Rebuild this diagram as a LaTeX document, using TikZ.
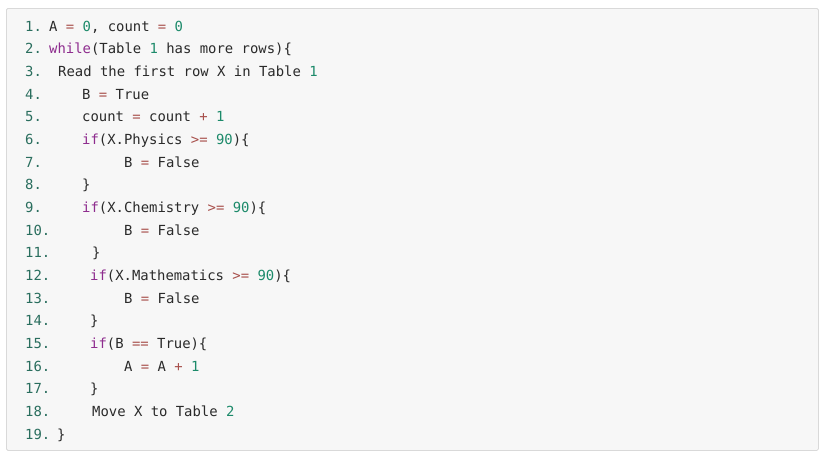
\documentclass[tikz,border=0pt]{standalone}
\usepackage{fontspec}
\setmonofont{DejaVu Sans Mono}
\definecolor{kw}{HTML}{8E2C8E}
\definecolor{nm}{HTML}{1C8A6A}
\definecolor{op}{HTML}{A8504C}
\definecolor{ln}{HTML}{2A6E5E}
\definecolor{tx}{HTML}{2A2A2A}
\newcommand{\K}[1]{\textcolor{kw}{#1}}
\newcommand{\N}[1]{\textcolor{nm}{#1}}
\newcommand{\Op}[1]{\textcolor{op}{#1}}
\begin{document}
\begin{tikzpicture}[x=1pt,y=-1pt,
  code/.style={anchor=base west,inner sep=0pt,font=\ttfamily\fontsize{13.9}{14}\selectfont,text=tx},
  lnum/.style={code,text=ln}]
\useasboundingbox (0,0) rectangle (826,459);
\node[draw=black!15,fill=black!3,line width=0.8pt,rounded corners=1.5pt,minimum width=812pt,minimum height=442pt,anchor=north west,inner sep=0pt] (box) at (6,8) {};
\foreach \i in {1,...,19} {
  \node[lnum] (n\i) at (25,{31+22.67*(\i-1)}) {\i.};
}
\def\Y#1{{31+22.67*(#1-1)}}
\node[code] (c1) at (49,\Y1) {A \Op{=} \N{0}, count \Op{=} \N{0}};
\node[code] (c2) at (49,\Y2) {\K{while}(Table \N{1} has more rows)\{};
\node[code] (c3) at (58,\Y3) {Read the first row X in Table \N{1}};
\node[code] (c4) at (82,\Y4) {B \Op{=} True};
\node[code] (c5) at (82,\Y5) {count \Op{=} count \Op{+} \N{1}};
\node[code] (c6) at (82,\Y6) {\K{if}(X.Physics \Op{>=} \N{90})\{};
\node[code] (c7) at (124,\Y7) {B \Op{=} False};
\node[code] (c8) at (82,\Y8) {\}};
\node[code] (c9) at (82,\Y9) {\K{if}(X.Chemistry \Op{>=} \N{90})\{};
\node[code] (c10) at (124,\Y{10}) {B \Op{=} False};
\node[code] (c11) at (92,\Y{11}) {\}};
\node[code] (c12) at (90,\Y{12}) {\K{if}(X.Mathematics \Op{>=} \N{90})\{};
\node[code] (c13) at (124,\Y{13}) {B \Op{=} False};
\node[code] (c14) at (90,\Y{14}) {\}};
\node[code] (c15) at (90,\Y{15}) {\K{if}(B \Op{==} True)\{};
\node[code] (c16) at (124,\Y{16}) {A \Op{=} A \Op{+} \N{1}};
\node[code] (c17) at (90,\Y{17}) {\}};
\node[code] (c18) at (92,\Y{18}) {Move X to Table \N{2}};
\node[code] (c19) at (57,\Y{19}) {\}};
\end{tikzpicture}
\end{document}
